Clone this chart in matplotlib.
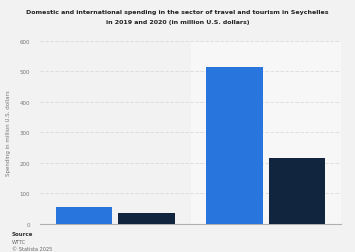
import matplotlib.pyplot as plt
import numpy as np

groups = ['Domestic', 'International']
years = ['2019', '2020']
spend_2019 = [56, 514]
spend_2020 = [36, 216]
yticks = [0, 100, 200, 300, 400, 500, 600]

bg = '#f2f2f2'
fig = plt.figure(figsize=(3.55, 2.53), dpi=100, facecolor=bg)
ax = fig.add_axes([0.1127, 0.1107, 0.848, 0.7243], facecolor=bg)

x = np.arange(len(groups))
w = 0.375
ax.axvspan(0.5, 1.5, color='#f7f7f7', zorder=0, lw=0)
ax.bar(x - 0.208, spend_2019, w, color='#2876dd', zorder=3)
ax.bar(x + 0.208, spend_2020, w, color='#11263e', zorder=3)

ax.set_xlim(-0.5, 1.5)
ax.set_ylim(0, 600)
ax.set_yticks(yticks)
ax.set_yticklabels([str(v) for v in yticks], fontsize=4, color='#777777')
ax.set_xticks([])
ax.tick_params(axis='y', length=0, pad=7)
ax.yaxis.grid(True, color='#dadada', linestyle=(0, (4, 2)), linewidth=0.6, zorder=1)
for s in ['top', 'right', 'left']:
    ax.spines[s].set_visible(False)
ax.spines['bottom'].set_color('#b0b0b0')
ax.spines['bottom'].set_linewidth(0.8)
ax.set_ylabel('Spending in million U.S. dollars', fontsize=4, color='#777777', labelpad=6)

fig.text(0.5, 0.96, 'Domestic and international spending in the sector of travel and tourism in Seychelles\n'
         'in 2019 and 2020 (in million U.S. dollars)',
         ha='center', va='top', fontsize=4.5, fontweight='bold', color='#222222', linespacing=2.3)
fig.text(0.034, 0.082, 'Source', fontsize=4, fontweight='bold', color='#333333', va='top')
fig.text(0.034, 0.052, 'WTTC', fontsize=3.6, color='#666666', va='top')
fig.text(0.034, 0.025, '© Statista 2025', fontsize=3.6, color='#666666', va='top')

fig.savefig('out.png', dpi=100, facecolor=bg)
